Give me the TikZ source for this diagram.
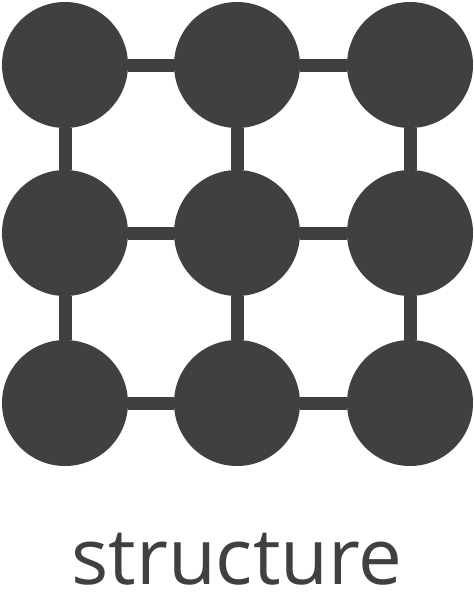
\documentclass[tikz,border=0pt]{standalone}
\usepackage{fontspec}
\setmainfont{Open Sans}
\definecolor{dotgray}{RGB}{64,64,66}
\tikzset{
  dot/.style={circle, fill=dotgray, minimum size=126pt, inner sep=0pt},
  bar/.style={draw=dotgray, line width=13pt}
}
\begin{document}
\begin{tikzpicture}[x=1pt, y=-1pt]
    \useasboundingbox (0, 0) rectangle (474, 592);
    \foreach \i/\x in {1/65, 2/237, 3/410} {
        \foreach \j/\y in {1/65, 2/233, 3/403} {
            \node[dot] (c\j\i) at (\x, \y) {};
        }
    }
    \foreach \j in {1, 2, 3} {
        \draw[bar] (c\j1) -- (c\j2) -- (c\j3);
        \draw[bar] (c1\j) -- (c2\j) -- (c3\j);
    }
    \node[anchor=base, inner sep=0pt, text=dotgray, font=\fontsize{78}{78}\selectfont] (label) at (237, 584) {structure};
\end{tikzpicture}
\end{document}
